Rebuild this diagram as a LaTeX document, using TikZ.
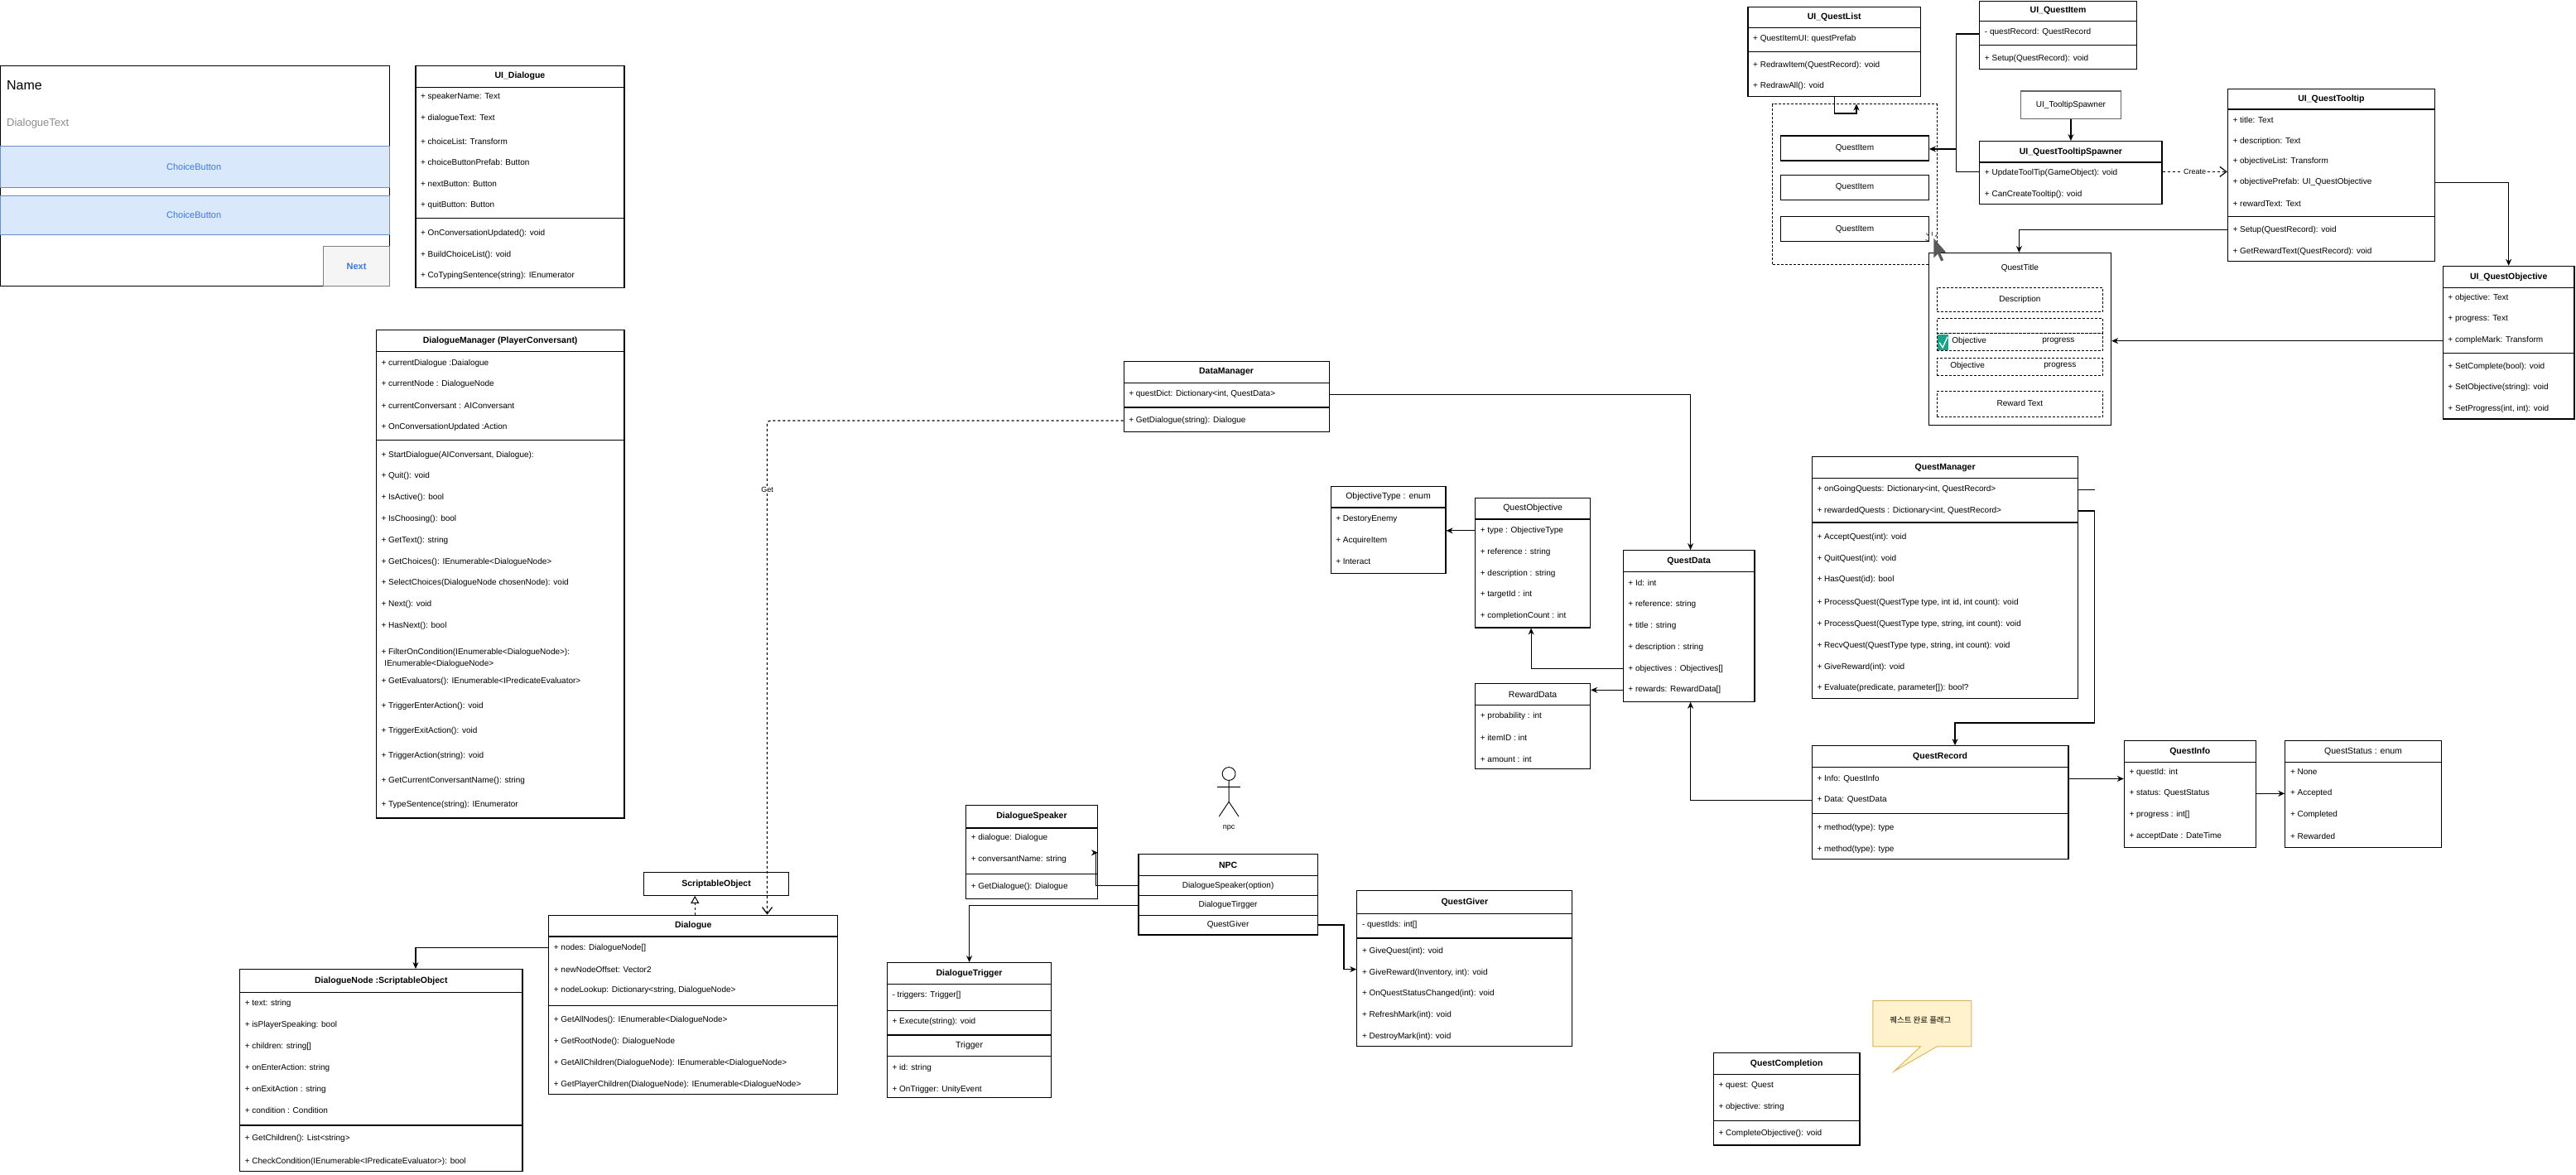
\documentclass[tikz,border=0pt]{standalone}
\usepackage{fontspec}
\setmainfont{Liberation Sans}
\newfontfamily\krfont{Noto Sans CJK KR}
\usetikzlibrary{fit,arrows.meta}
\definecolor{btnfill}{HTML}{DAE8FC}
\definecolor{btnline}{HTML}{6C8EBF}
\definecolor{btntext}{HTML}{3A77D8}
\definecolor{callfill}{HTML}{FFF2CC}
\definecolor{callline}{HTML}{D6B656}
\definecolor{checkc}{HTML}{1BA28A}
\newcommand\ucls[7]{%
  \node[cls, fit={(#2,#3) (#4,#5)}] (#1) {};
  \draw[ln] (#2,#6) -- (#4,#6);
  \node[ttl] at ({(#2+#4)/2},{(#3+#6)/2}) {#7};}
\newcommand\urow[3]{\node[rowt] at (#1,#2) {#3};}
\newcommand\udiv[3]{\draw[ln] (#1,#3) -- (#2,#3);}
\begin{document}
\begin{tikzpicture}[x=1.984pt,y=-1.984pt,
  ln/.style={line width=1.2pt},
  cls/.style={draw, fill=white, inner sep=0pt, line width=1.2pt},
  ttl/.style={inner sep=0pt, font=\fontsize{10.5}{12}\selectfont},
  rowt/.style={anchor=west, inner sep=0pt, font=\fontsize{10}{12}\selectfont},
  ctr/.style={inner sep=0pt, font=\fontsize{10}{12}\selectfont},
  arr/.style={line width=1.2pt, -{Stealth[length=8pt,width=7pt]}},
  openarr/.style={line width=1.2pt, dashed, dash pattern=on 3pt off 3pt, -{Straight Barb[length=8pt,width=12pt]}},
  dbox/.style={draw, dashed, dash pattern=on 3pt off 2pt, inner sep=0pt, line width=1pt},
  ]
\useasboundingbox (0,0) rectangle (1568,715.2);

% ---------- mockup ----------
\node[cls, fit={(0,40) (237,174)}] (mock) {};
\node[anchor=west, inner sep=0pt, font=\fontsize{16}{18}\selectfont] (nm) at (4,52) {Name};
\node[anchor=west, inner sep=0pt, text=black!45, font=\fontsize{13}{15}\selectfont] (dtx) at (4,75) {DialogueText};
\node[draw=btnline, fill=btnfill, inner sep=0pt, line width=1pt, fit={(0,89) (237,114)}] (cb1) {};
\node[text=btntext, font=\fontsize{11}{13}\selectfont] at (118,101.5) {ChoiceButton};
\node[draw=btnline, fill=btnfill, inner sep=0pt, line width=1pt, fit={(0,119) (237,143)}] (cb2) {};
\node[text=btntext, font=\fontsize{11}{13}\selectfont] at (118,131) {ChoiceButton};
\node[draw=black!50, fill=black!4, inner sep=0pt, line width=0.8pt, fit={(197,150) (237,174)}] (nx) {};
\node[text=btntext, font=\bfseries\fontsize{11}{13}\selectfont] at (217,162) {Next};

% ---------- UI_Dialogue ----------
\ucls{uid}{253}{40}{380}{175}{53}{\textbf{UI\_Dialogue}}
\urow{256}{59}{+ speakerName: Text}
\urow{256}{72}{+ dialogueText: Text}
\urow{256}{86}{+ choiceList: Transform}
\urow{256}{99}{+ choiceButtonPrefab: Button}
\urow{256}{112}{+ nextButton: Button}
\urow{256}{125}{+ quitButton: Button}
\udiv{253}{380}{133}
\urow{256}{142}{+ OnConversationUpdated(): void}
\urow{256}{155}{+ BuildChoiceList(): void}
\urow{256}{168}{+ CoTypingSentence(string): IEnumerator}

% ---------- DialogueManager ----------
\ucls{dmg}{229}{201}{380}{498}{214}{\textbf{DialogueManager (PlayerConversant)}}
\urow{232}{221}{+ currentDialogue :Daialogue}
\urow{232}{234}{+ currentNode : DialogueNode}
\urow{232}{247}{+ currentConversant : AIConversant}
\urow{232}{260}{+ OnConversationUpdated :Action}
\udiv{229}{380}{268}
\urow{232}{277}{+ StartDialogue(AIConversant, Dialogue):}
\urow{232}{290}{+ Quit(): void}
\urow{232}{303}{+ IsActive(): bool}
\urow{232}{316}{+ IsChoosing(): bool}
\urow{232}{329}{+ GetText(): string}
\urow{232}{342}{+ GetChoices(): IEnumerable<DialogueNode>}
\urow{232}{355}{+ SelectChoices(DialogueNode chosenNode): void}
\urow{232}{368}{+ Next(): void}
\urow{232}{381}{+ HasNext(): bool}
\urow{232}{397}{+ FilterOnCondition(IEnumerable<DialogueNode>):}
\urow{234}{404}{IEnumerable<DialogueNode>}
\urow{232}{415}{+ GetEvaluators(): IEnumerable<IPredicateEvaluator>}
\urow{232}{430}{+ TriggerEnterAction(): void}
\urow{232}{445}{+ TriggerExitAction(): void}
\urow{232}{460}{+ TriggerAction(string): void}
\urow{232}{475}{+ GetCurrentConversantName(): string}
\urow{232}{490}{+ TypeSentence(string): IEnumerator}

% ---------- DataManager ----------
\ucls{dm}{684}{220}{809}{263}{233}{\textbf{DataManager}}
\urow{687}{240}{+ questDict: Dictionary<int, QuestData>}
\udiv{684}{809}{248}
\urow{687}{256}{+ GetDialogue(string): Dialogue}

% ---------- ScriptableObject / Dialogue / DialogueNode ----------
\node[cls, fit={(392,531) (480,545)}] (so) {};
\node[ttl] at (436,538) {\textbf{ScriptableObject}};
\ucls{dlg}{334}{557}{510}{666}{570}{\textbf{Dialogue}}
\urow{337}{577}{+ nodes: DialogueNode[]}
\urow{337}{590}{+ newNodeOffset: Vector2}
\urow{337}{603}{+ nodeLookup: Dictionary<string, DialogueNode>}
\udiv{334}{510}{612}
\urow{337}{621}{+ GetAllNodes(): IEnumerable<DialogueNode>}
\urow{337}{634}{+ GetRootNode(): DialogueNode}
\urow{337}{647}{+ GetAllChildren(DialogueNode): IEnumerable<DialogueNode>}
\begin{scope}
\clip (335,652) rectangle (509,666);
\urow{337}{660}{+ GetPlayerChildren(DialogueNode): IEnumerable<DialogueNode>}
\end{scope}

\ucls{dn}{146}{590}{318}{713}{604}{\textbf{DialogueNode :ScriptableObject}}
\urow{149}{611}{+ text: string}
\urow{149}{624}{+ isPlayerSpeaking: bool}
\urow{149}{637}{+ children: string[]}
\urow{149}{650}{+ onEnterAction: string}
\urow{149}{663}{+ onExitAction : string}
\urow{149}{676}{+ condition : Condition}
\udiv{146}{318}{685}
\urow{149}{693}{+ GetChildren(): List<string>}
\urow{149}{707}{+ CheckCondition(IEnumerable<IPredicateEvaluator>): bool}

\draw[line width=1pt, dashed, dash pattern=on 3pt off 3pt, -{Triangle[open,length=9pt,width=10pt]}] (423,0 |- dlg.north) -- (423,0 |- so.south);
\draw[arr] (dlg.west |- 0,577) -| (253,0 |- dn.north);
\draw[openarr, rounded corners=4pt] (dm.west |- 0,256) -- (467,256) -- (467,0 |- dlg.north)
  node[pos=0.14, fill=white, inner sep=1pt, font=\fontsize{9}{10}\selectfont] {Get};

% ---------- NPC group ----------
\ucls{ds}{588}{490}{668}{547}{504}{\textbf{DialogueSpeaker}}
\urow{591}{510}{+ dialogue: Dialogue}
\urow{591}{523}{+ conversantName: string}
\udiv{588}{668}{532}
\urow{591}{540}{+ GetDialogue(): Dialogue}

\draw[line width=0.9pt] (748,471) circle (4);
\draw[line width=0.9pt] (748,475) -- (748,488) (741,479) -- (755,479) (742,497) -- (748,488) -- (754,497);
\node[ctr, font=\fontsize{9}{10}\selectfont] (npclab) at (748,504) {npc};

\ucls{npc}{693}{520}{802}{569}{533}{\textbf{NPC}}
\udiv{693}{802}{545}
\udiv{693}{802}{557}
\node[ctr] at (747.5,539) {DialogueSpeaker(option)};
\node[ctr] at (747.5,551) {DialogueTirgger};
\node[ctr] at (747.5,563) {QuestGiver};

\ucls{dt}{540}{586}{640}{668}{599}{\textbf{DialogueTrigger}}
\urow{543}{606}{- triggers: Trigger[]}
\udiv{540}{640}{615}
\urow{543}{622}{+ Execute(string): void}
\udiv{540}{640}{630}
\node[ttl] at (590,636.5) {Trigger};
\udiv{540}{640}{643}
\urow{543}{650}{+ id: string}
\urow{543}{663}{+ OnTrigger: UnityEvent}

\ucls{qg}{826}{542}{957}{637}{556}{\textbf{QuestGiver}}
\urow{829}{563}{- questIds: int[]}
\udiv{826}{957}{571}
\urow{829}{579}{+ GiveQuest(int): void}
\urow{829}{592}{+ GiveReward(Inventory, int): void}
\urow{829}{605}{+ OnQuestStatusChanged(int): void}
\urow{829}{618}{+ RefreshMark(int): void}
\urow{829}{631}{+ DestroyMark(int): void}

\draw[arr] (npc.west |- 0,539) -- (667,539) -- (667,519) -- (ds.east |- 0,519);
\draw[arr] (npc.west |- 0,551) -| (590,0 |- dt.north);
\draw[arr] (npc.east |- 0,563) -- (818,563) |- (qg.west |- 0,590);

% ---------- Quest data ----------
\ucls{ot}{810}{296}{880}{349}{309}{ObjectiveType : enum}
\urow{813}{316}{+ DestoryEnemy}
\urow{813}{329}{+ AcquireItem}
\urow{813}{342}{+ Interact}

\ucls{qo}{898}{303}{968}{382}{316}{QuestObjective}
\urow{901}{323}{+ type : ObjectiveType}
\urow{901}{336}{+ reference : string}
\urow{901}{349}{+ description : string}
\urow{901}{362}{+ targetId : int}
\urow{901}{375}{+ completionCount : int}

\ucls{qd}{988}{335}{1068}{427}{348}{\textbf{QuestData}}
\urow{991}{355}{+ Id: int}
\urow{991}{368}{+ reference: string}
\urow{991}{381}{+ title : string}
\urow{991}{394}{+ description : string}
\urow{991}{407}{+ objectives : Objectives[]}
\urow{991}{420}{+ rewards: RewardData[]}

\ucls{rd}{898}{416}{968}{468}{429}{RewardData}
\urow{901}{436}{+ probability : int}
\urow{901}{449}{+ itemID : int}
\urow{901}{462}{+ amount : int}

\draw[arr] (qo.west |- 0,323) -- (ot.east |- 0,323);
\draw[arr] (qd.west |- 0,407) -| (932,0 |- qo.south);
\draw[arr] (qd.west |- 0,420) -- (rd.east |- 0,420);
\draw[arr] (dm.east |- 0,240) -| (1029,0 |- qd.north);

\ucls{qm}{1103}{278}{1265}{425}{291}{\textbf{QuestManager}}
\urow{1106}{298}{+ onGoingQuests: Dictionary<int, QuestRecord>}
\urow{1106}{311}{+ rewardedQuests : Dictionary<int, QuestRecord>}
\udiv{1103}{1265}{318}
\urow{1106}{327}{+ AcceptQuest(int): void}
\urow{1106}{340}{+ QuitQuest(int): void}
\urow{1106}{353}{+ HasQuest(id): bool}
\urow{1106}{367}{+ ProcessQuest(QuestType type, int id, int count): void}
\urow{1106}{380}{+ ProcessQuest(QuestType type, string, int count): void}
\urow{1106}{393}{+ RecvQuest(QuestType type, string, int count): void}
\urow{1106}{406}{+ GiveReward(int): void}
\urow{1106}{419}{+ Evaluate(predicate, parameter[]): bool?}

\ucls{qr}{1103}{454}{1259}{523}{467}{\textbf{QuestRecord}}
\urow{1106}{474}{+ Info: QuestInfo}
\urow{1106}{487}{+ Data: QuestData}
\udiv{1103}{1259}{495}
\urow{1106}{504}{+ method(type): type}
\urow{1106}{517}{+ method(type): type}

\ucls{qi}{1293}{451}{1373}{516}{464}{\textbf{QuestInfo}}
\urow{1296}{470}{+ questId: int}
\urow{1296}{483}{+ status: QuestStatus}
\urow{1296}{496}{+ progress : int[]}
\urow{1296}{509}{+ acceptDate : DateTime}

\ucls{qs}{1391}{451}{1486}{516}{464}{QuestStatus : enum}
\urow{1394}{470}{+ None}
\urow{1394}{483}{+ Accepted}
\urow{1394}{496}{+ Completed}
\urow{1394}{509}{+ Rewarded}

\draw[ln] (qm.east |- 0,298) -- (1275,298);
\draw[arr] (qm.east |- 0,311) -- (1275,311) -- (1275,440) -- (1190,440) -- (1190,0 |- qr.north);
\draw[arr] (qr.west |- 0,487) -| (1029,0 |- qd.south);
\draw[arr] (qr.east |- 0,474) -- (qi.west |- 0,474);
\draw[arr] (qi.east |- 0,483) -- (qs.west |- 0,483);

\ucls{qc}{1043}{641}{1132}{697}{654}{\textbf{QuestCompletion}}
\urow{1046}{661}{+ quest: Quest}
\urow{1046}{674}{+ objective: string}
\udiv{1043}{1132}{682}
\urow{1046}{690}{+ CompleteObjective(): void}

\draw[fill=callfill, draw=callline, line width=0.9pt] (1140,609) -- (1200,609) -- (1200,637) -- (1179,637) -- (1153,652) -- (1169,637) -- (1140,637) -- cycle;
\node[inner sep=0pt, font=\krfont\fontsize{9.5}{11}\selectfont] (note) at (1169,621) {퀘스트 완료 플래그};

% ---------- Quest UI ----------
\ucls{ql}{1064}{4.2}{1169}{58.6}{16.8}{\textbf{UI\_QuestList}}
\urow{1067}{23.4}{+ QuestItemUI: questPrefab}
\udiv{1064}{1169}{31.4}
\urow{1067}{39.8}{+ RedrawItem(QuestRecord): void}
\urow{1067}{52.6}{+ RedrawAll(): void}

\node[dbox, fit={(1079,63.5) (1179,161)}] (cont) {};
\node[cls, fit={(1084,82.7) (1174,97.8)}] (qi1) {};
\node[ctr] at (1129,90.2) {QuestItem};
\node[cls, fit={(1084,106.5) (1174,121.7)}] (qi2) {};
\node[ctr] at (1129,114.1) {QuestItem};
\node[cls, fit={(1084,132) (1174,147)}] (qi3) {};
\node[ctr] at (1129,139.5) {QuestItem};
\draw[arr] (1116.5,0 |- ql.south) -- (1116.5,69) -- (1130,69) -- (1130,0 |- cont.north);

\ucls{uqi}{1205}{0.6}{1300.5}{42}{12.8}{\textbf{UI\_QuestItem}}
\urow{1208}{19.8}{- questRecord: QuestRecord}
\udiv{1205}{1300.5}{27.6}
\urow{1208}{35.8}{+ Setup(QuestRecord): void}

\node[draw=black!60, fill=white, inner sep=0pt, line width=1.4pt, fit={(1230,55.4) (1291,72.3)}] (tsp) {};
\node[ctr] at (1260.5,63.8) {UI\_TooltipSpawner};

\ucls{qts}{1205}{86}{1316}{124.3}{98.8}{\textbf{UI\_QuestTooltipSpawner}}
\urow{1208}{105.5}{+ UpdateToolTip(GameObject): void}
\urow{1208}{118.5}{+ CanCreateTooltip(): void}
\draw[arr] (tsp.south) -- (1260.5,0 |- qts.north);

\draw[ln] (uqi.west |- 0,20.7) -- (1190.6,20.7) -- (1190.6,104.5) -- (qts.west |- 0,104.5);
\draw[arr] (1190.6,90.7) -- (qi1.east |- 0,90.7);

\ucls{qtt}{1356}{54}{1482}{159}{66.5}{\textbf{UI\_QuestTooltip}}
\urow{1359}{73}{+ title: Text}
\urow{1359}{86}{+ description: Text}
\urow{1359}{98}{+ objectiveList: Transform}
\urow{1359}{111}{+ objectivePrefab: UI\_QuestObjective}
\urow{1359}{124}{+ rewardText: Text}
\udiv{1356}{1482}{132}
\urow{1359}{140}{+ Setup(QuestRecord): void}
\urow{1359}{153}{+ GetRewardText(QuestRecord): void}

\draw[openarr] (qts.east |- 0,104.5) -- (qtt.west |- 0,104.5)
  node[midway, fill=white, inner sep=1pt, font=\fontsize{9}{10}\selectfont] {Create};

\ucls{uqo}{1487}{162}{1567}{255}{175}{\textbf{UI\_QuestObjective}}
\urow{1490}{181.5}{+ objective: Text}
\urow{1490}{194}{+ progress: Text}
\urow{1490}{207}{+ compleMark: Transform}
\udiv{1487}{1567}{215}
\urow{1490}{223}{+ SetComplete(bool): void}
\urow{1490}{236}{+ SetObjective(string): void}
\urow{1490}{249}{+ SetProgress(int, int): void}

% tooltip panel
\node[cls, fit={(1174,154) (1285,259)}] (panel) {};
\node[ctr] at (1229.5,163) {QuestTitle};
\node[dbox, fit={(1179,175) (1280,189.6)}] (pdesc) {};
\node[ctr] at (1229.5,182.3) {Description};
\node[dbox, fit={(1179,194) (1280,203)}] (pgap) {};
\node[dbox, fit={(1179,203) (1280,213.7)}] (pobj1) {};
\fill[checkc] (1179.5,203.5) rectangle (1186,213.2);
\draw[white, line width=1.3pt] (1180.5,208.5) -- (1182.5,211.5) -- (1185.5,205);
\node[rowt] at (1188,207.8) {Objective};
\node[rowt] at (1243,207.8) {progress};
\node[dbox, fit={(1179,218) (1280,228.5)}] (pobj2) {};
\node[rowt] at (1187,222.5) {Objective};
\node[rowt] at (1244,222.5) {progress};
\node[dbox, fit={(1179,238) (1280,254)}] (prew) {};
\node[ctr] at (1229.5,245.5) {Reward Text};

% cursor
\fill[black!65] (1177,145) -- (1177,157) -- (1179.5,154.5) -- (1181.5,159) -- (1183,158.3) -- (1181,154) -- (1184.5,153.5) -- cycle;
\draw[black!65, line width=1pt] (1176,141) -- (1176,143.5) (1172,146) -- (1174,146.5) (1172.5,142) -- (1174.3,144) (1179.5,142) -- (1178,144);

\draw[arr] (qtt.west |- 0,140) -| (1229,0 |- panel.north);
\draw[arr] (qtt.east |- 0,111) -| (1527,0 |- uqo.north);
\draw[arr] (uqo.west |- 0,207.5) -- (panel.east |- 0,207.5);
\end{tikzpicture}
\end{document}
